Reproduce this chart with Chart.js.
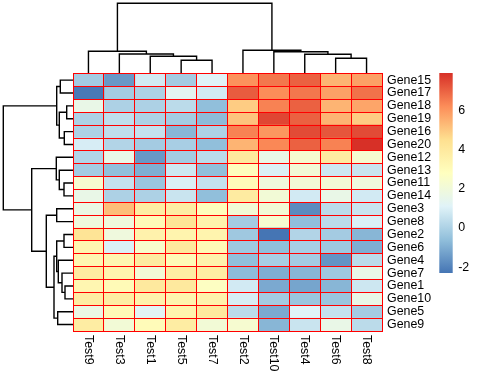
<!DOCTYPE html>
<html>
<head>
<meta charset="utf-8">
<script src="https://cdn.jsdelivr.net/npm/chart.js@4"></script>
<style>
  html, body { margin: 0; padding: 0; background: #fff; }
  #wrap { position: relative; width: 480px; height: 384px; }
  #wrap canvas { position: absolute; left: 0; top: 0; }
</style>
</head>
<body>
<div id="wrap">
  <canvas id="heat" width="480" height="384"></canvas>
  <canvas id="colTree" width="480" height="384"></canvas>
  <canvas id="rowTree" width="480" height="384"></canvas>
  <canvas id="key" width="480" height="384"></canvas>
</div>
<script>
// columns and rows in the order the clustering put them
const testLabels = ['Test9', 'Test3', 'Test1', 'Test5', 'Test7', 'Test2', 'Test10', 'Test4', 'Test6', 'Test8'];
const geneLabels = ['Gene15', 'Gene17', 'Gene18', 'Gene19', 'Gene16', 'Gene20', 'Gene12', 'Gene13', 'Gene11', 'Gene14',
                    'Gene3', 'Gene8', 'Gene2', 'Gene6', 'Gene4', 'Gene7', 'Gene1', 'Gene10', 'Gene5', 'Gene9'];

// one row per gene, one value per test (same order as testLabels)
const values = [
    [-0.2, -1.5,  0.8, -0.2,  1.1,  6.1,  6.6,  7.0,  5.4,  5.8],
    [-2.2, -0.2,  0.0,  1.3,  0.8,  7.1,  6.2,  6.6,  5.8,  6.7],
    [ 1.6,  0.0,  0.0,  0.3, -0.6,  4.9,  6.4,  7.0,  5.4,  5.7],
    [ 0.0,  0.4,  0.0, -0.2, -0.7,  5.1,  7.5,  7.0,  5.4,  4.9],
    [ 0.0,  0.4,  0.5, -0.8,  0.0,  6.4,  6.0,  7.4,  7.2,  7.4],
    [ 0.9,  0.1, -0.2, -0.1, -0.6,  5.4,  6.3,  7.0,  6.4,  7.9],
    [ 0.1,  1.6, -1.5, -0.2,  0.3,  4.0,  1.6,  2.3,  3.9,  2.3],
    [-0.2, -0.6, -1.0,  0.7, -0.6,  2.9,  1.0,  2.1,  0.7,  0.6],
    [ 2.3,  0.5, -0.4,  1.0,  0.5,  3.0,  1.9,  2.1,  2.1,  1.9],
    [ 1.6,  0.0,  0.0,  0.6, -0.6,  3.9,  2.1,  0.8,  1.6,  0.8],
    [ 1.7,  5.2,  3.8,  3.8,  2.9,  2.1,  2.1, -1.8,  0.3,  0.6],
    [ 1.9,  1.9,  3.1,  4.3,  3.5, -0.2,  2.3, -0.6,  0.3,  1.0],
    [ 4.3,  1.9,  3.5,  3.4,  3.4, -0.3, -2.3,  0.1, -0.2, -0.8],
    [ 3.3,  1.0,  2.4,  4.0,  3.1, -0.3, -0.6, -0.1, -0.3, -1.0],
    [ 3.3,  3.3,  3.9,  3.1,  3.5, -0.6, -0.1, -0.2, -1.6,  0.3],
    [ 3.9,  3.4,  2.1,  3.8,  3.8, -0.7, -1.0, -0.8, -0.3,  1.6],
    [ 3.3,  3.1,  4.0,  4.0,  2.7,  0.8, -1.1, -1.2, -0.8,  0.7],
    [ 3.8,  3.8,  3.5,  3.4,  3.5,  0.9, -0.2, -0.4, -0.4,  1.6],
    [ 1.7,  3.1,  1.2,  3.4,  4.0,  0.3, -1.1,  1.1,  0.5, -0.2],
    [ 3.8,  2.1,  3.0,  3.8,  2.1,  2.3, -0.8,  0.6,  1.6,  0.3]
];

// hclust style merges: negative = leaf (1-based display position), positive = earlier merge
const colMergeA = [-4, -9, -3, -8, -2, -7, -1, -6, 7];
const colMergeB = [-5, -10, 1, 2, 3, 4, 5, 6, 8];
const colMergeHeight = [2.54, 2.94, 3.34, 3.74, 3.8, 4.26, 4.34, 4.54, 13.94];

const rowMergeA = [-3, -17, -5, -9, -13, -16, -1, 1, -8, -15, -19, -11, 5, 7, -7, 13, 12, 15, 14];
const rowMergeB = [-4, -18, -6, -10, -14, 2, -2, 3, 4, 6, -20, -12, 10, 8, 9, 11, 16, 17, 18];
const rowMergeHeight = [1.26, 1.6, 1.74, 1.8, 1.8, 2.2, 2.54, 2.74, 2.74, 2.94, 3.06, 3.26, 3.26, 3.26, 3.34, 3.8, 5.34, 8.26, 13.94];

const legendTicks = [-2, 0, 2, 4, 6];
const palette = ['#4575B4', '#91BFDB', '#E0F3F8', '#FFFFBF', '#FEE090', '#FC8D59', '#D73027'];

const FONT = '"Liberation Sans", Arial, sans-serif';
const FONT_SIZE = 12.4;

Chart.defaults.color = '#000';
Chart.defaults.font.family = FONT;
Chart.defaults.font.size = FONT_SIZE;
Chart.defaults.animation = false;
Chart.defaults.plugins.legend.display = false;
Chart.defaults.plugins.tooltip.enabled = false;

const valueMin = Math.min(...values.flat());
const valueMax = Math.max(...values.flat());

function hexToRgb(h) {
    return [1, 3, 5].map(i => parseInt(h.slice(i, i + 2), 16));
}

function colorFor(v) {
    const t = Math.min(Math.max((v - valueMin) / (valueMax - valueMin), 0), 1) * (palette.length - 1);
    const i = Math.min(Math.floor(t), palette.length - 2);
    const f = t - i;
    const a = hexToRgb(palette[i]);
    const b = hexToRgb(palette[i + 1]);
    const c = a.map((x, k) => Math.round(x + (b[k] - x) * f));
    return `rgb(${c[0]}, ${c[1]}, ${c[2]})`;
}

// turn the merge table into U shaped segments: [position, height] pairs
function treeSegments(left, right, heights) {
    const pos = [];
    const node = k => k < 0 ? { p: -k - 0.5, h: 0 } : { p: pos[k - 1], h: heights[k - 1] };
    return heights.map((h, m) => {
        const l = node(left[m]);
        const r = node(right[m]);
        pos.push((l.p + r.p) / 2);
        return [[l.p, l.h], [l.p, h], [r.p, h], [r.p, r.h]];
    });
}

const treeLine = { showLine: true, borderColor: '#000', borderWidth: 1.4, pointRadius: 0, clip: false, tension: 0 };

// ---- heatmap ----
const colLabelPlugin = {
    id: 'colLabels',
    afterDraw(chart) {
        const { ctx, chartArea, scales: { x } } = chart;
        ctx.save();
        ctx.font = `${FONT_SIZE}px ${FONT}`;
        ctx.fillStyle = '#000';
        ctx.textAlign = 'left';
        ctx.textBaseline = 'middle';
        testLabels.forEach((t, i) => {
            ctx.save();
            ctx.translate(x.getPixelForValue(i + 0.5), chartArea.bottom + 4);
            ctx.rotate(Math.PI / 2);
            ctx.fillText(t, 0, 0);
            ctx.restore();
        });
        ctx.restore();
    }
};

new Chart(document.getElementById('heat'), {
    type: 'bar',
    data: {
        labels: geneLabels,
        datasets: testLabels.map((t, c) => ({
            label: t,
            data: geneLabels.map(() => [c, c + 1]),
            backgroundColor: values.map(row => colorFor(row[c])),
            borderWidth: 0,
            grouped: false,
            barPercentage: 1,
            categoryPercentage: 1
        }))
    },
    options: {
        responsive: false,
        indexAxis: 'y',
        layout: { padding: { left: 73, top: 73.7, right: 0, bottom: 53 } },
        scales: {
            x: {
                type: 'linear',
                min: 0,
                max: testLabels.length,
                ticks: { display: false, stepSize: 1 },
                grid: { color: '#FF0000', lineWidth: 1, drawTicks: false, z: 1 },
                border: { color: '#FF0000', z: 1 },
                afterFit: s => { s.height = 0; }
            },
            y: {
                type: 'category',
                position: 'right',
                ticks: { padding: 5, autoSkip: false },
                grid: { color: '#FF0000', lineWidth: 1, drawTicks: false, offset: true, z: 1 },
                border: { color: '#FF0000', z: 1 },
                afterFit: s => { s.width = 98; }
            }
        }
    },
    plugins: [colLabelPlugin]
});

// ---- column dendrogram ----
new Chart(document.getElementById('colTree'), {
    type: 'scatter',
    data: {
        datasets: treeSegments(colMergeA, colMergeB, colMergeHeight).map(seg => ({
            ...treeLine,
            data: seg.map(([p, h]) => ({ x: p, y: h }))
        }))
    },
    options: {
        responsive: false,
        layout: { padding: { left: 73, right: 98, top: 3.3, bottom: 311 } },
        scales: {
            x: { type: 'linear', min: 0, max: testLabels.length, display: false },
            y: { type: 'linear', min: 0, max: Math.max(...colMergeHeight), display: false }
        }
    }
});

// ---- row dendrogram ----
new Chart(document.getElementById('rowTree'), {
    type: 'scatter',
    data: {
        datasets: treeSegments(rowMergeA, rowMergeB, rowMergeHeight).map(seg => ({
            ...treeLine,
            data: seg.map(([p, h]) => ({ x: h, y: p }))
        }))
    },
    options: {
        responsive: false,
        layout: { padding: { left: 3.3, right: 407, top: 73.7, bottom: 53 } },
        scales: {
            x: { type: 'linear', min: 0, max: Math.max(...rowMergeHeight), reverse: true, display: false },
            y: { type: 'linear', min: 0, max: geneLabels.length, reverse: true, display: false }
        }
    }
});

// ---- colour key ----
new Chart(document.getElementById('key'), {
    type: 'bar',
    data: {
        labels: ['key'],
        datasets: [{
            data: [[valueMin, valueMax]],
            borderWidth: 0,
            barPercentage: 1,
            categoryPercentage: 1,
            backgroundColor: ctx => {
                const chart = ctx.chart;
                const y = chart.scales.y;
                if (!chart.chartArea || !y) return palette[3];
                const g = chart.ctx.createLinearGradient(0, y.getPixelForValue(valueMin), 0, y.getPixelForValue(valueMax));
                palette.forEach((c, i) => g.addColorStop(i / (palette.length - 1), c));
                return g;
            }
        }]
    },
    options: {
        responsive: false,
        layout: { padding: { left: 439.3, right: 0, top: 73, bottom: 111 } },
        scales: {
            x: { display: false },
            y: {
                type: 'linear',
                position: 'right',
                min: valueMin,
                max: valueMax,
                afterBuildTicks: s => { s.ticks = legendTicks.map(v => ({ value: v })); },
                ticks: { padding: 5.5 },
                grid: { display: false, drawTicks: false },
                border: { display: false },
                afterFit: s => { s.width = 27.3; }
            }
        }
    }
});
</script>
</body>
</html>
